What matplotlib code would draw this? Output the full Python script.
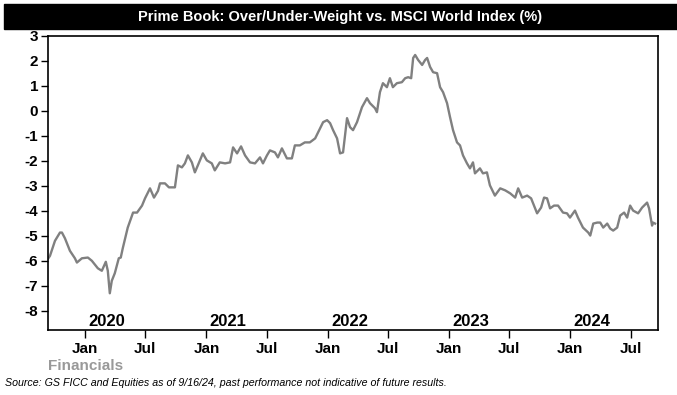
import matplotlib
matplotlib.use("Agg")
import matplotlib.pyplot as plt
import matplotlib.dates as mdates
import matplotlib.transforms as mtransforms
import pandas as pd

plt.rcParams['font.family'] = ['Liberation Sans Narrow', 'Liberation Sans', 'DejaVu Sans']

title = "Prime Book: Over/Under-Weight vs. MSCI World Index (%)"
source = "Source: GS FICC and Equities as of 9/16/24, past performance not indicative of future results."
panel_label = "Financials"

# fechas y valores
fechas = [
    "2019-09-12", "2019-09-18", "2019-10-03", "2019-10-18", "2019-10-24", "2019-11-02",
    "2019-11-17", "2019-12-02", "2019-12-08", "2019-12-23", "2020-01-10", "2020-01-22",
    "2020-02-09", "2020-02-21", "2020-03-04", "2020-03-10", "2020-03-16", "2020-03-22",
    "2020-03-31", "2020-04-12", "2020-04-18", "2020-04-24", "2020-05-09", "2020-05-19",
    "2020-05-25", "2020-06-06", "2020-06-21", "2020-06-30", "2020-07-15", "2020-07-27",
    "2020-08-08", "2020-08-14", "2020-08-29", "2020-09-10", "2020-09-28", "2020-10-07",
    "2020-10-19", "2020-10-28", "2020-11-06", "2020-11-18", "2020-11-27", "2020-12-06",
    "2020-12-21", "2021-01-02", "2021-01-17", "2021-01-26", "2021-02-10", "2021-02-26",
    "2021-03-13", "2021-03-22", "2021-04-03", "2021-04-15", "2021-04-27", "2021-05-12",
    "2021-05-27", "2021-06-11", "2021-06-20", "2021-07-02", "2021-07-11", "2021-07-26",
    "2021-08-04", "2021-08-16", "2021-08-31", "2021-09-15", "2021-09-24", "2021-10-09",
    "2021-10-24", "2021-11-08", "2021-11-24", "2021-12-09", "2021-12-18", "2021-12-30",
    "2022-01-08", "2022-01-17", "2022-01-29", "2022-02-07", "2022-02-16", "2022-02-28",
    "2022-03-09", "2022-03-18", "2022-03-30", "2022-04-14", "2022-04-29", "2022-05-08",
    "2022-05-23", "2022-05-29", "2022-06-07", "2022-06-16", "2022-06-28", "2022-07-07",
    "2022-07-16", "2022-07-28", "2022-08-12", "2022-08-22", "2022-08-31", "2022-09-09",
    "2022-09-15", "2022-09-21", "2022-09-30", "2022-10-12", "2022-10-21", "2022-10-27",
    "2022-11-05", "2022-11-14", "2022-11-26", "2022-12-05", "2022-12-14", "2022-12-26",
    "2023-01-04", "2023-01-13", "2023-01-25", "2023-02-03", "2023-02-12", "2023-02-24",
    "2023-03-05", "2023-03-14", "2023-03-20", "2023-04-04", "2023-04-13", "2023-04-25",
    "2023-05-04", "2023-05-19", "2023-06-04", "2023-06-19", "2023-07-04", "2023-07-19",
    "2023-07-28", "2023-08-09", "2023-08-24", "2023-09-05", "2023-09-11", "2023-09-23",
    "2023-10-05", "2023-10-14", "2023-10-23", "2023-11-01", "2023-11-13", "2023-11-25",
    "2023-12-10", "2023-12-22", "2023-12-31", "2024-01-15", "2024-01-24", "2024-02-08",
    "2024-02-24", "2024-03-01", "2024-03-10", "2024-03-22", "2024-03-31", "2024-04-09",
    "2024-04-21", "2024-04-30", "2024-05-09", "2024-05-21", "2024-05-30", "2024-06-11",
    "2024-06-20", "2024-06-29", "2024-07-08", "2024-07-23", "2024-08-04", "2024-08-19",
    "2024-08-25", "2024-09-03", "2024-09-06", "2024-09-12",
]
valores = [
    -5.92, -5.80, -5.20, -4.87, -4.87, -5.10,
    -5.60, -5.90, -6.07, -5.90, -5.87, -6.00,
    -6.30, -6.40, -6.04, -6.40, -7.30, -6.80,
    -6.50, -5.90, -5.87, -5.50, -4.67, -4.30,
    -4.07, -4.07, -3.79, -3.50, -3.10, -3.47,
    -3.20, -2.90, -2.90, -3.06, -3.06, -2.18,
    -2.26, -2.10, -1.78, -2.06, -2.46, -2.18,
    -1.70, -1.98, -2.10, -2.38, -2.06, -2.10,
    -2.06, -1.46, -1.70, -1.42, -1.78, -2.06,
    -2.10, -1.86, -2.10, -1.78, -1.58, -1.66,
    -1.86, -1.50, -1.90, -1.90, -1.38, -1.38,
    -1.26, -1.26, -1.10, -0.69, -0.45, -0.37,
    -0.49, -0.77, -1.10, -1.70, -1.66, -0.29,
    -0.65, -0.77, -0.45, 0.15, 0.51, 0.31,
    0.11, -0.05, 0.75, 1.11, 0.95, 1.31,
    0.95, 1.11, 1.15, 1.31, 1.35, 1.31,
    2.12, 2.24, 2.04, 1.84, 2.04, 2.12,
    1.76, 1.55, 1.51, 0.95, 0.75, 0.31,
    -0.25, -0.77, -1.26, -1.38, -1.78, -2.10,
    -2.30, -2.06, -2.50, -2.30, -2.50, -2.46,
    -2.98, -3.39, -3.10, -3.18, -3.30, -3.47,
    -3.10, -3.47, -3.39, -3.50, -3.70, -4.10,
    -3.87, -3.47, -3.50, -3.90, -3.79, -3.79,
    -4.07, -4.10, -4.27, -3.99, -4.27, -4.67,
    -4.87, -4.99, -4.51, -4.47, -4.47, -4.67,
    -4.51, -4.71, -4.79, -4.67, -4.19, -4.07,
    -4.27, -3.79, -3.99, -4.10, -3.87, -3.67,
    -3.90, -4.59, -4.47, -4.51,
]
anios = [2020, 2021, 2022, 2023, 2024]
y_ticks = [3, 2, 1, 0, -1, -2, -3, -4, -5, -6, -7, -8]

fechas = pd.to_datetime(fechas)

fig = plt.figure(figsize=(6.77, 3.95), dpi=100)
ax = fig.add_axes([0.0709, 0.1646, 0.9011, 0.7443])

# barra negra del titulo
fig.patches.append(plt.Rectangle((4 / 677, 1 - 29 / 395), 673 / 677, 25 / 395,
                                 transform=fig.transFigure, color='black', zorder=0))
fig.text(0.502, 1 - 16.5 / 395, title, color='white', fontsize=10.5, fontweight='bold',
         ha='center', va='center')

ax.plot(fechas, valores, color='#808080', linewidth=1.7)

ax.set_xlim(pd.Timestamp("2019-09-12"), pd.Timestamp("2024-09-21"))
ax.set_ylim(-8.77, 3)
ax.set_yticks(y_ticks)
ax.set_yticklabels([str(v) for v in y_ticks], fontsize=11, fontweight='bold')

ax.xaxis.set_major_locator(mdates.MonthLocator(bymonth=[1, 7]))
ax.xaxis.set_major_formatter(mdates.DateFormatter('%b'))
ax.tick_params(axis='x', labelsize=11, length=6, width=1, pad=3)
ax.tick_params(axis='y', length=5, width=1, pad=2)
plt.setp(ax.get_xticklabels(), fontweight='bold')

for s in ax.spines.values():
    s.set_linewidth(1.2)

# etiquetas de anio dentro del grafico
trans = mtransforms.blended_transform_factory(ax.transData, ax.transAxes)
for a in anios:
    ax.text(pd.Timestamp(f"{a}-03-07"), 0.005, str(a), transform=trans, ha='center',
            va='bottom', fontsize=12, fontweight='bold')

fig.text(48 / 677, 1 - 366 / 395, panel_label, color='#999999', fontsize=11,
         fontweight='bold', ha='left', va='center')
fig.text(5 / 677, 1 - 383 / 395, source, fontsize=7.7, style='italic', ha='left', va='center')

fig.savefig("out.png", dpi=100)
